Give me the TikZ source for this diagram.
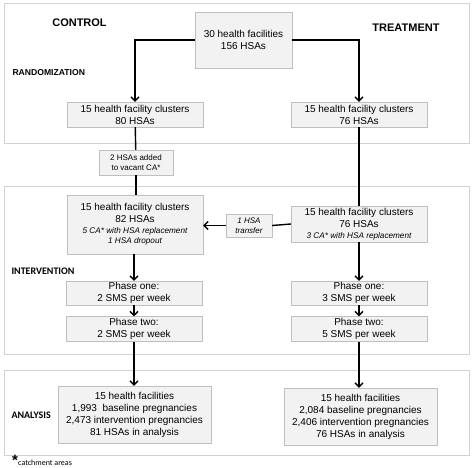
\documentclass[tikz,border=0pt]{standalone}
\usepackage{fontspec}
\setmainfont{Liberation Sans}
\newfontfamily\calib{Carlito}
\usetikzlibrary{arrows.meta,positioning,calc,backgrounds,shadows}

\begin{document}
\begin{tikzpicture}[
    x=1pt, y=-1pt,
    box/.style={rectangle, draw=gray!50, fill=gray!10, align=center, inner sep=1pt,
                drop shadow={shadow xshift=0.8pt, shadow yshift=-0.8pt, fill=gray!45, opacity=0.6},
                font=\fontsize{10}{12}\selectfont},
    small/.style={box, font=\fontsize{8}{9.5}\selectfont},
    panel/.style={draw=gray!35, fill=white, line width=0.8pt},
    arrow/.style={-{Straight Barb[length=4pt,width=8pt]}, line width=1.4pt},
    line/.style={line width=1.4pt},
    arm/.style={font=\fontsize{11}{13}\selectfont\bfseries},
    phase/.style={font=\calib\fontsize{10}{12}\selectfont\bfseries, anchor=west}
]
\useasboundingbox (0,0) rectangle (474,467);

%% ── Stage panels ─────────────────────────────────────────────────
\begin{scope}[on background layer]
\draw[panel] (4,3)   rectangle (469,143);
\draw[panel] (4,186) rectangle (469,354);
\draw[panel] (4,370) rectangle (469,455);
\end{scope}

%% ── Randomization ────────────────────────────────────────────────
\node[box, minimum width=97, minimum height=56] (all) at (243.5,40)
    {30 health facilities\\156 HSAs};
\node[box, minimum width=136, minimum height=25] (lclust) at (135,114.5)
    {15 health facility clusters\\80 HSAs};
\node[box, minimum width=136, minimum height=25] (rclust) at (359,114.5)
    {15 health facility clusters\\76 HSAs};
\node[small, minimum width=74, minimum height=25] (added) at (136,162.5)
    {2 HSAs added\\to vacant CA*};

%% ── Intervention ─────────────────────────────────────────────────
\node[box, minimum width=136, minimum height=59] (lint) at (135,224.5)
    {15 health facility clusters\\82 HSAs\\[-1pt]
     {\itshape\fontsize{8.2}{9.5}\selectfont 5 CA* with HSA replacement}\\[-2pt]
     {\itshape\fontsize{8.2}{9.5}\selectfont 1 HSA dropout}};
\node[box, minimum width=136, minimum height=36] (rint) at (359,224)
    {15 health facility clusters\\76 HSAs\\[-1pt]
     {\itshape\fontsize{8.2}{9.5}\selectfont 3 CA* with HSA replacement}};
\node[small, minimum width=46, minimum height=23, font=\fontsize{8}{9.5}\selectfont\itshape]
    (transfer) at (249,225.5) {1 HSA\\transfer};

\node[box, minimum width=136, minimum height=24] (lph1) at (134,293)
    {Phase one:\\2 SMS per week};
\node[box, minimum width=136, minimum height=25] (lph2) at (134,329)
    {Phase two:\\2 SMS per week};
\node[box, minimum width=136, minimum height=24] (rph1) at (359,293)
    {Phase one:\\3 SMS per week};
\node[box, minimum width=136, minimum height=25] (rph2) at (359,329)
    {Phase two:\\5 SMS per week};

%% ── Analysis ─────────────────────────────────────────────────────
\node[box, minimum width=153, minimum height=57] (lana) at (134.5,414.5)
    {15 health facilities\\1,993~ baseline pregnancies\\2,473 intervention pregnancies\\81 HSAs in analysis};
\node[box, minimum width=153, minimum height=57] (rana) at (360.5,416.5)
    {15 health facilities\\2,084 baseline pregnancies\\2,406 intervention pregnancies\\76 HSAs in analysis};

%% ── Arrows ───────────────────────────────────────────────────────
\draw[arrow] (all.west) -| (lclust.north);
\draw[arrow] (all.east) -| (rclust.north);
\draw[line]  (lclust) -- (added);
\draw[line]  (added)  -- (added |- lint.north);
\draw[line]  (rclust) -- (rint);
\draw[line]  (rint.west) -- (transfer.east);
\draw[arrow] (transfer.west) -- (lint.east |- transfer.west);
\draw[arrow] (lint.south -| lph1) -- (lph1);
\draw[arrow] (lph1) -- (lph2);
\draw[arrow] (lph2.south) -- (lph2.south |- lana.north);
\draw[arrow] (rint) -- (rph1);
\draw[arrow] (rph1) -- (rph2);
\draw[arrow] (rph2.south) -- (rph2.south |- rana.north);

%% ── Labels ───────────────────────────────────────────────────────
\node[arm] (control) at (79.5,23) {CONTROL};
\node[arm] (treat)   at (406,28)  {TREATMENT};
\node[font=\fontsize{8.6}{10}\selectfont\bfseries, anchor=west] (rand) at (9,73) {RANDOMIZATION};
\node[phase] (interv) at (8,271) {INTERVENTION};
\node[phase] (analys) at (8,415) {ANALYSIS};

%% ── Footnote ─────────────────────────────────────────────────────
\node[font=\fontsize{15}{15}\selectfont\bfseries, inner sep=0] (star) at (15,460) {*};
\node[font=\calib\fontsize{8}{9}\selectfont, anchor=west, inner sep=0] (fn) at (18,463) {catchment areas};

\end{tikzpicture}
\end{document}
